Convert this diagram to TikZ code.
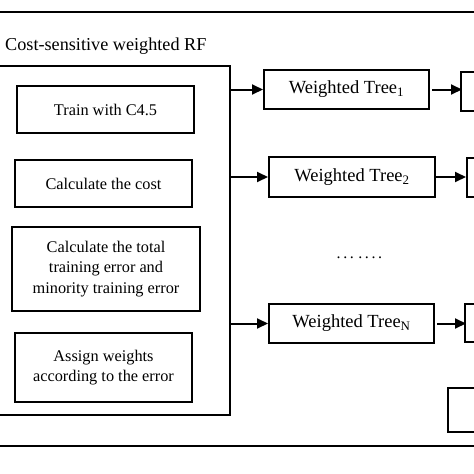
\documentclass[tikz,border=0pt]{standalone}
\usepackage{fontspec}
\setmainfont{Liberation Serif}
\usetikzlibrary{arrows.meta}
\begin{document}
\begin{tikzpicture}[x=1pt,y=-1pt,
  frame/.style={line width=1.8pt},
  box/.style={draw,line width=2pt,inner sep=0pt,align=center,font=\fontsize{16.3}{20.5}\selectfont},
  tree/.style={draw,line width=2pt,inner sep=0pt,minimum width=165pt,minimum height=39pt,font=\fontsize{18.5}{22}\selectfont},
  part/.style={draw,line width=2pt,inner sep=0pt},
  arr/.style={line width=2pt,-{Triangle[length=11pt,width=10pt]}}]
\useasboundingbox (0,0) rectangle (474,474);
\clip (0,0) rectangle (474,474);
\fill[white] (0,0) rectangle (474,474);
% outer frame (sides off the page)
\draw[frame] (-10,12) rectangle (484,446);
% title
\node[anchor=base west,inner sep=0pt,font=\fontsize{18.2}{22}\selectfont] (title) at (5,50) {Cost-sensitive weighted RF};
% big box
\node[part,minimum width=240pt,minimum height=349pt] (big) at (110,240.5) {};
% inner steps
\node[box,minimum width=177pt,minimum height=47pt] (s1) at (105.5,109.5) {Train with C4.5};
\node[box,minimum width=177pt,minimum height=47pt] (s2) at (103.5,183.5) {Calculate the cost};
\node[box,minimum width=188pt,minimum height=84pt] (s3) at (106,269) {Calculate the total\\training error and\\minority training error};
\node[box,minimum width=177pt,minimum height=69pt] (s4) at (103.5,367.5) {Assign weights\\according to the error};
% trees
\node[tree] (t1) at (346.5,89.5) {Weighted Tree\textsubscript{1}};
\node[tree,minimum width=166pt,minimum height=40pt] (t2) at (352,177) {Weighted Tree\textsubscript{2}};
\node[tree] (tN) at (351.5,323.5) {Weighted Tree\textsubscript{N}};
\node[anchor=base west,inner sep=0pt,font=\fontsize{16}{20}\selectfont] (dots) at (336.5,258) {.\hspace{2.6pt}.\hspace{2.6pt}.\hspace{4.5pt}.\hspace{2.6pt}.\hspace{2.6pt}.\hspace{2.6pt}.};
% partial boxes at right edge
\node[part,minimum width=40pt,minimum height=39pt] (r1) at (481,91.5) {};
\node[part,minimum width=40pt,minimum height=39pt] (r2) at (487,177.5) {};
\node[part,minimum width=40pt,minimum height=38pt] (rN) at (485,323) {};
\node[part,minimum width=50pt,minimum height=44pt] (rb) at (473,410) {};
% arrows
\draw[arr] (big.east |- t1.west) -- (t1.west);
\draw[arr] (big.east |- t2.west) -- (t2.west);
\draw[arr] (big.east |- tN.west) -- (tN.west);
\draw[arr] ([xshift=2pt]t1.east) -- ([xshift=2pt]t1.east -| r1.west);
\draw[arr] (t2.east) -- (t2.east -| r2.west);
\draw[arr] ([xshift=2pt]tN.east) -- ([xshift=2pt]tN.east -| rN.west);
\end{tikzpicture}
\end{document}
